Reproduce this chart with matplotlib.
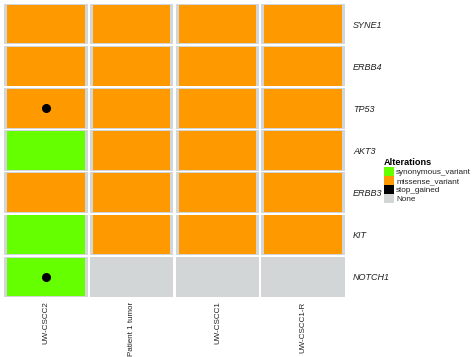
import matplotlib
matplotlib.use("Agg")
import matplotlib.pyplot as plt
from matplotlib.patches import Rectangle, Patch

plt.rcParams["font.family"] = ["Liberation Sans", "DejaVu Sans"]

# data
samples = ["UW-CSCC2", "Patient 1 tumor", "UW-CSCC1", "UW-CSCC1-R"]
genes = ["SYNE1", "ERBB4", "TP53", "AKT3", "ERBB3", "KIT", "NOTCH1"]
# main alteration per gene (rows) and sample (columns)
alterations = [
    ["missense_variant", "missense_variant", "missense_variant", "missense_variant"],
    ["missense_variant", "missense_variant", "missense_variant", "missense_variant"],
    ["missense_variant", "missense_variant", "missense_variant", "missense_variant"],
    ["synonymous_variant", "missense_variant", "missense_variant", "missense_variant"],
    ["missense_variant", "missense_variant", "missense_variant", "missense_variant"],
    ["synonymous_variant", "missense_variant", "missense_variant", "missense_variant"],
    ["synonymous_variant", "None", "None", "None"],
]
# cells that also carry a stop_gained (gene, sample)
stop_gained = [("TP53", "UW-CSCC2"), ("NOTCH1", "UW-CSCC2")]

legend_labels = ["synonymous_variant", "missense_variant", "stop_gained", "None"]
colors = {
    "synonymous_variant": "#66ff00",
    "missense_variant": "#ff9900",
    "stop_gained": "#000000",
    "None": "#d3d6d6",
}

fig = plt.figure(figsize=(4.74, 3.57), dpi=100)
ax = fig.add_axes([3 / 474, 1 - 298 / 357, 343 / 474, 295 / 357])

n_rows = len(genes)
n_cols = len(samples)
gap = 0.012  # white gap around every cell
for i, gene in enumerate(genes):
    y = n_rows - 1 - i
    for j, sample in enumerate(samples):
        # grey background tile
        ax.add_patch(Rectangle((j + gap, y + gap * 1.6), 1 - 2 * gap, 1 - 2 * gap * 1.6,
                               facecolor=colors["None"], edgecolor="none"))
        alt = alterations[i][j]
        if alt != "None":
            ax.add_patch(Rectangle((j + 0.047, y + 0.04), 1 - 0.094, 1 - 0.08,
                                   facecolor=colors[alt], edgecolor="none"))
        if (gene, sample) in stop_gained:
            ax.plot(j + 0.5, y + 0.5, "o", color="black", markersize=5.5)

ax.set_xlim(0, n_cols)
ax.set_ylim(0, n_rows)
for s in ax.spines.values():
    s.set_visible(False)
ax.tick_params(length=0)
ax.set_xticks([j + 0.5 for j in range(n_cols)])
ax.set_xticklabels(samples, rotation=90, fontsize=5.8, color="#222222")
ax.set_yticks([n_rows - 1 - i + 0.5 for i in range(n_rows)])
ax.set_yticklabels(genes, fontsize=6.5, style="italic", color="#222222")
ax.yaxis.tick_right()
ax.tick_params(axis="y", pad=5)
ax.tick_params(axis="x", pad=2.5)

handles = [Patch(facecolor=colors[l], edgecolor="none") for l in legend_labels]
leg = fig.legend(handles, legend_labels, loc="upper left",
                 bbox_to_anchor=(384 / 474, 1 - 158 / 357), frameon=False,
                 fontsize=5.9, title="Alterations", handlelength=1.2, handleheight=1.25,
                 handletextpad=0.3, labelspacing=0.0, borderaxespad=0, borderpad=0)
leg.get_title().set_fontweight("bold")
leg.get_title().set_fontsize(6.6)
leg._legend_box.align = "left"
for t in leg.get_texts():
    t.set_color("#222222")

fig.savefig("out.png", dpi=100)
